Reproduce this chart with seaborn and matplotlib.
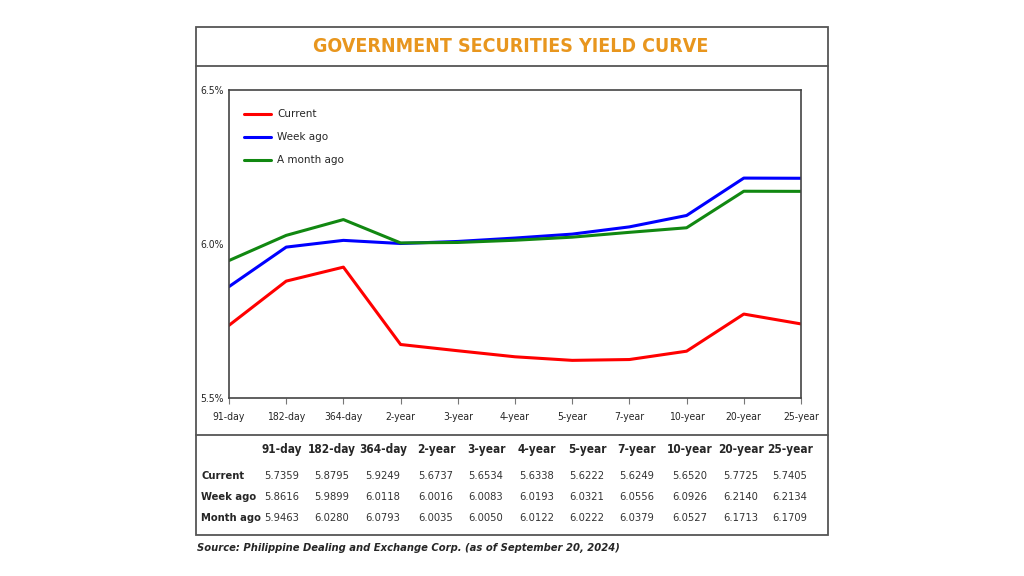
import matplotlib
matplotlib.use('Agg')
import matplotlib.pyplot as plt
from matplotlib import font_manager
import numpy as np
import pandas as pd
import seaborn as sns

tenors = ['91-day', '182-day', '364-day', '2-year', '3-year', '4-year',
          '5-year', '7-year', '10-year', '20-year', '25-year']
current = [5.7359, 5.8795, 5.9249, 5.6737, 5.6534, 5.6338, 5.6222, 5.6249, 5.6520, 5.7725, 5.7405]
week_ago = [5.8616, 5.9899, 6.0118, 6.0016, 6.0083, 6.0193, 6.0321, 6.0556, 6.0926, 6.2140, 6.2134]
month_ago = [5.9463, 6.0280, 6.0793, 6.0035, 6.0050, 6.0122, 6.0222, 6.0379, 6.0527, 6.1713, 6.1709]
series_names = ['Current', 'Week ago', 'A month ago']
row_names = ['Current', 'Week ago', 'Month ago']
y_ticks = [5.5, 6.0, 6.5]

sns.set_style('white')

names = {f.name for f in font_manager.fontManager.ttflist}
if 'Liberation Sans Narrow' in names:
    narrow = ['Liberation Sans Narrow', 'DejaVu Sans']
    stretch = 'normal'
else:
    narrow = ['DejaVu Sans']
    stretch = 'condensed'
plt.rcParams['font.family'] = narrow

W, H = 1024, 576
fig = plt.figure(figsize=(W / 100, H / 100), dpi=100)

def fx(px):
    return px / W

def fy(py):
    return 1 - py / H

# outer box and title band
box_col = '#555555'
fig.add_artist(plt.Rectangle((fx(196), fy(535)), fx(828) - fx(196), fy(27) - fy(535),
                             transform=fig.transFigure, fill=False, edgecolor=box_col, lw=1.3))
fig.add_artist(plt.Line2D([fx(196), fx(828)], [fy(66), fy(66)], transform=fig.transFigure,
                          color=box_col, lw=1.3))
fig.add_artist(plt.Line2D([fx(196), fx(828)], [fy(435), fy(435)], transform=fig.transFigure,
                          color=box_col, lw=1.3))
fig.text(fx(511), fy(46), 'GOVERNMENT SECURITIES YIELD CURVE', ha='center', va='center',
         fontsize=14, fontweight='bold', color='#E8961E', fontstretch=stretch)

# chart
ax = fig.add_axes([fx(229), fy(398), fx(801) - fx(229), fy(90) - fy(398)])
df = pd.DataFrame({
    'pos': list(range(len(tenors))) * 3,
    'yield': current + week_ago + month_ago,
    'series': np.repeat(series_names, len(tenors)),
})
sns.lineplot(data=df, x='pos', y='yield', hue='series', hue_order=series_names,
             palette=['#FF0000', '#0000FF', '#118811'], lw=2.2, ax=ax)
ax.set_xlim(0, len(tenors) - 1)
ax.set_ylim(5.5, 6.5)
ax.set_xticks(range(len(tenors)))
ax.set_xticklabels(tenors, fontsize=7.5, fontstretch=stretch)
ax.set_yticks(y_ticks)
ax.set_yticklabels([f'{v:.1f}%' for v in y_ticks], fontsize=7.5, fontstretch=stretch)
ax.tick_params(axis='x', length=4, width=0.8, color='#777777', pad=6, direction='out', bottom=True)
ax.tick_params(axis='y', length=0, pad=4)
ax.set_xlabel('')
ax.set_ylabel('')
for s in ax.spines.values():
    s.set_color('#444444')
    s.set_linewidth(1.2)
ax.legend(loc='upper left', frameon=False, fontsize=7.5, handlelength=2.6, handletextpad=0.6,
          labelspacing=1.25, borderaxespad=1.0, bbox_to_anchor=(0.0, 0.985))

# table
col_x = [282, 332, 383, 436, 486, 537, 587, 637, 690, 741, 790]
for x, t in zip(col_x, tenors):
    fig.text(fx(x), fy(449), t, ha='center', va='center', fontsize=8.5,
             fontweight='bold', fontstretch=stretch)
rows = [current, week_ago, month_ago]
row_y = [476, 497, 518]
for name, vals, y in zip(row_names, rows, row_y):
    fig.text(fx(201), fy(y), name, ha='left', va='center', fontsize=8,
             fontweight='bold', fontstretch=stretch)
    for x, v in zip(col_x, vals):
        fig.text(fx(x), fy(y), f'{v:.4f}', ha='center', va='center', fontsize=8,
                 color='#333333', fontstretch=stretch)

fig.text(fx(197), fy(548), 'Source: Philippine Dealing and Exchange Corp. (as of September 20, 2024)',
         ha='left', va='center', fontsize=8, fontweight='bold', fontstyle='italic',
         family=['DejaVu Sans'], fontstretch='condensed')

plt.savefig('out.png', dpi=100)
plt.close()
